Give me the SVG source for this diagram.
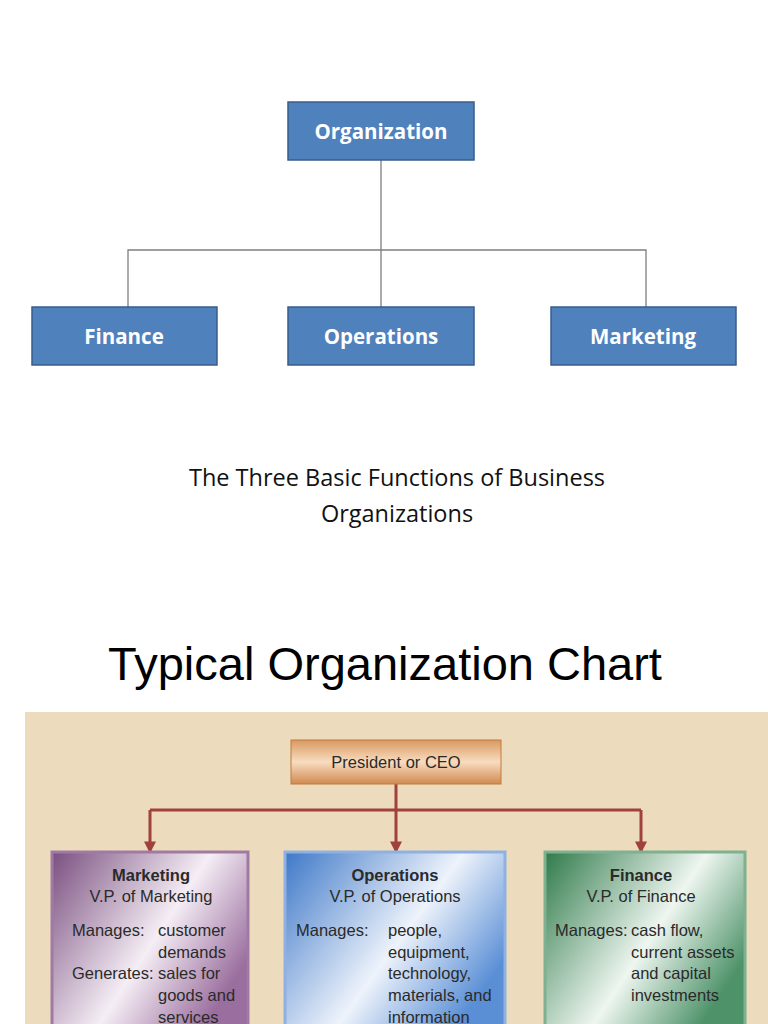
<svg xmlns="http://www.w3.org/2000/svg" width="768" height="1024" viewBox="0 0 768 1024">
<defs>
<style>
.bx{fill:#4f81bd;stroke:#385d8a;stroke-width:1.5}
.bt{font-family:"Open Sans",sans-serif;font-weight:bold;font-size:20.5px;fill:#fff;text-anchor:middle}
.ln{stroke:#7f7f7f;stroke-width:1.3;fill:none}
.rl{stroke:#a0413c;stroke-width:3;fill:none}
.t{font-family:"Liberation Sans",Arial,sans-serif;font-size:16.5px;fill:#2a2a2a}
.h{font-weight:bold;text-anchor:middle}
.c{text-anchor:middle}
</style>
<marker id="ar" viewBox="0 0 10 10" refX="8" refY="5" markerWidth="12" markerHeight="12" orient="auto" markerUnits="userSpaceOnUse"><path d="M0,0 L10,5 L0,10 Z" fill="#a0413c"/></marker>
<linearGradient id="gm" x1="0" y1="0" x2="1" y2="0.6"><stop offset="0" stop-color="#7a4f80"/><stop offset="0.6" stop-color="#f5eef5"/><stop offset="1" stop-color="#9a6e9e"/></linearGradient>
<linearGradient id="go" x1="0" y1="0" x2="1" y2="0.6"><stop offset="0" stop-color="#3e78c8"/><stop offset="0.6" stop-color="#eef3fb"/><stop offset="1" stop-color="#5a8fd6"/></linearGradient>
<linearGradient id="gf" x1="0" y1="0" x2="1" y2="0.6"><stop offset="0" stop-color="#2f7a4a"/><stop offset="0.6" stop-color="#eef6f0"/><stop offset="1" stop-color="#4d9268"/></linearGradient>
<linearGradient id="gc" x1="0" y1="0" x2="0" y2="1"><stop offset="0" stop-color="#d89a60"/><stop offset="0.5" stop-color="#f8dcc0"/><stop offset="1" stop-color="#d08a50"/></linearGradient>
</defs>
<rect width="768" height="1024" fill="#fff"/>
<g id="connectors-top">
<path class="ln" d="M381,160 V307 M128,307 V250 H646 V307"/>
</g>
<g id="organization"><rect class="bx" x="288" y="102" width="186" height="58"/><text class="bt" x="381" y="139">Organization</text></g>
<g id="finance"><rect class="bx" x="32" y="307" width="185" height="58"/><text class="bt" x="124" y="344">Finance</text></g>
<g id="operations"><rect class="bx" x="288" y="307" width="186" height="58"/><text class="bt" x="381" y="344">Operations</text></g>
<g id="marketing"><rect class="bx" x="551" y="307" width="185" height="58"/><text class="bt" x="643" y="344">Marketing</text></g>
<text font-family="'Open Sans',sans-serif" font-size="23.5" fill="#111" text-anchor="middle"><tspan x="397" y="486">The Three Basic Functions of Business</tspan><tspan x="397" y="522">Organizations</tspan></text>
<text x="385" y="680" font-family="'Liberation Sans',Arial,sans-serif" font-size="47" fill="#000" text-anchor="middle">Typical Organization Chart</text>
<rect x="25" y="712" width="743" height="312" fill="#ecdcbd"/>
<g id="connectors-bottom">
<path class="rl" d="M396,784 V810 H150 M396,810 H641"/>
<path class="rl" d="M150,810 V851" marker-end="url(#ar)"/>
<path class="rl" d="M396,810 V851" marker-end="url(#ar)"/>
<path class="rl" d="M641,810 V851" marker-end="url(#ar)"/>
</g>
<g id="ceo"><rect x="291" y="740" width="210" height="44" fill="url(#gc)" stroke="#c07a40"/><text class="t c" x="396" y="768">President or CEO</text></g>
<g id="b-marketing"><rect x="52" y="852" width="196" height="180" fill="url(#gm)" stroke="#a07aa5" stroke-width="3"/>
<text class="t h" x="151" y="881">Marketing</text><text class="t c" x="151" y="902">V.P. of Marketing</text>
<text class="t" x="72" y="936">Manages:</text><text class="t" x="158" y="936">customer</text><text class="t" x="158" y="958">demands</text>
<text class="t" x="72" y="979">Generates:</text><text class="t" x="158" y="979">sales for</text><text class="t" x="158" y="1001">goods and</text><text class="t" x="158" y="1023">services</text></g>
<g id="b-operations"><rect x="285" y="852" width="220" height="180" fill="url(#go)" stroke="#8fb0e0" stroke-width="3"/>
<text class="t h" x="395" y="881">Operations</text><text class="t c" x="395" y="902">V.P. of Operations</text>
<text class="t" x="296" y="936">Manages:</text><text class="t" x="388" y="936">people,</text><text class="t" x="388" y="958">equipment,</text><text class="t" x="388" y="979">technology,</text><text class="t" x="388" y="1001">materials, and</text><text class="t" x="388" y="1023">information</text></g>
<g id="b-finance"><rect x="545" y="852" width="200" height="180" fill="url(#gf)" stroke="#7fb090" stroke-width="3"/>
<text class="t h" x="641" y="881">Finance</text><text class="t c" x="641" y="902">V.P. of Finance</text>
<text class="t" x="555" y="936">Manages:</text><text class="t" x="631" y="936">cash flow,</text><text class="t" x="631" y="958">current assets</text><text class="t" x="631" y="979">and capital</text><text class="t" x="631" y="1001">investments</text></g>
</svg>
